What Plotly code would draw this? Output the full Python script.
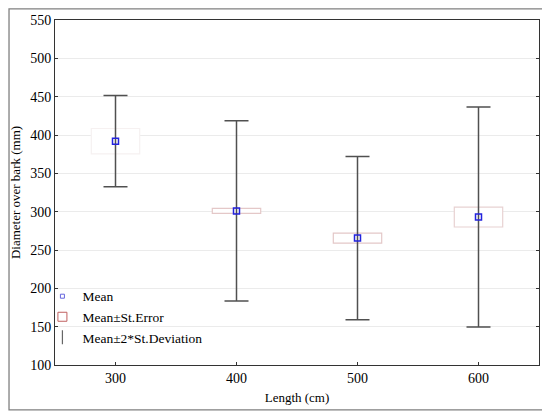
import plotly.graph_objects as go

# values (mm)
lengths = ["300", "400", "500", "600"]
means = [392, 301, 265.5, 293]
std_err = [16.5, 3.3, 6.5, 13]
two_sd = [59.5, 117.5, 106.5, 143.5]

font = "Liberation Serif, Times New Roman, serif"

fig = go.Figure()

# +/- 2*SD whiskers
fig.add_trace(go.Scatter(
    x=lengths, y=means, mode="markers",
    marker=dict(size=1, color="rgba(0,0,0,0)"),
    error_y=dict(type="data", array=two_sd, symmetric=True,
                 color="#505050", thickness=1.5, width=12),
    showlegend=False, hoverinfo="skip"))

# +/- SE boxes
fig.add_trace(go.Bar(
    x=lengths, y=[2 * s for s in std_err],
    base=[m - s for m, s in zip(means, std_err)],
    width=0.4,
    marker=dict(color="white",
                line=dict(color=["#f6f1f1", "#e4c8c8", "#e4c8c8", "#e8d2d2"],
                          width=1.2)),
    showlegend=False, hoverinfo="skip"))

# means
fig.add_trace(go.Scatter(
    x=lengths, y=means, mode="markers",
    marker=dict(symbol="square-open", size=6, color="#2222dd",
                line=dict(width=1.5)),
    showlegend=False))

# legend entries
fig.add_trace(go.Scatter(
    x=[None], y=[None], mode="markers", name="Mean",
    marker=dict(symbol="square-open", size=4, color="#6666dd",
                line=dict(width=1))))
fig.add_trace(go.Scatter(
    x=[None], y=[None], mode="markers", name="Mean±St.Error",
    marker=dict(symbol="square-open", size=9, color="#c06060",
                line=dict(width=1))))
fig.add_trace(go.Scatter(
    x=[None], y=[None], mode="markers", name="Mean±2*St.Deviation",
    marker=dict(symbol="line-ns-open", size=10, color="#666666",
                line=dict(width=1.2))))

# the page body adds an 8px margin, so the figure is sized to fit the window
fig.update_layout(
    width=542, height=407,
    margin=dict(l=47, r=11, t=12, b=50),
    paper_bgcolor="white", plot_bgcolor="white",
    font=dict(family=font, size=14, color="black"),
    barmode="overlay",
    legend=dict(x=-0.026, y=0.035, xanchor="left", yanchor="bottom",
                bgcolor="rgba(0,0,0,0)", font=dict(size=13.5),
                tracegroupgap=0, itemwidth=30),
    shapes=[dict(type="rect", xref="paper", yref="paper",
                 x0=-0.095, x1=1.008, y0=-0.13, y1=1.032,
                 line=dict(color="#808080", width=1.3), layer="below")],
)

fig.update_xaxes(
    type="category", range=[-0.5, 3.5], automargin=False,
    title=dict(text="Length (cm)", standoff=8, font=dict(size=13)),
    tickfont=dict(size=14),
    showline=True, linecolor="#333333", linewidth=1, mirror=True,
    ticks="inside", ticklen=3, tickcolor="#333333",
    showgrid=False, zeroline=False)

fig.update_yaxes(
    range=[100, 550], dtick=50, automargin=False,
    title=dict(text="Diameter over bark (mm)", standoff=6, font=dict(size=13)),
    tickfont=dict(size=14),
    showline=True, linecolor="#333333", linewidth=1, mirror="ticks",
    ticks="inside", ticklen=3, tickcolor="#333333",
    showgrid=True, gridcolor="#ebebeb", gridwidth=1, zeroline=False)

fig.write_html("out.html")
